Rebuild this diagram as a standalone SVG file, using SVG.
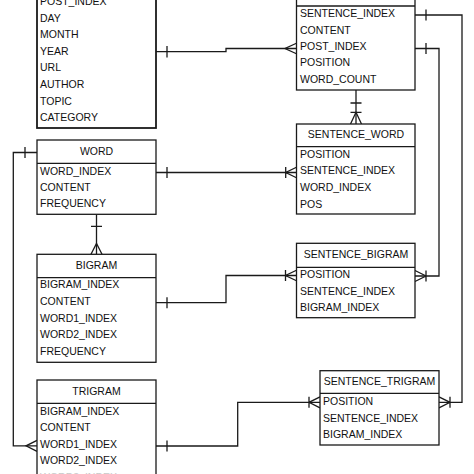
<svg xmlns="http://www.w3.org/2000/svg" width="474" height="474" viewBox="0 0 474 474">
<style>
.box{fill:#fff;stroke:#1a1a1a;stroke-width:1.3}
.sep{stroke:#1a1a1a;stroke-width:1.3}
.t{font-family:"Liberation Sans",Arial,sans-serif;font-size:10.5px;fill:#111}
.h{font-family:"Liberation Sans",Arial,sans-serif;font-size:10.5px;fill:#111;text-anchor:middle}
.c{fill:none;stroke:#1a1a1a;stroke-width:1.3}
</style>
<rect width="474" height="474" fill="#fff"/>
<g id="connectors">
<!-- POST -> SENTENCE -->
<path class="c" d="M156,51.7 H226 V48.5 H297"/>
<path class="c" d="M167,46 V57.5"/>
<path class="c" d="M297,43 L285,48.5 L297,54"/>
<!-- SENTENCE_INDEX -> SENTENCE_TRIGRAM -->
<path class="c" d="M415,15 H462 V402.3 H439"/>
<path class="c" d="M426,9.5 V20.5"/>
<path class="c" d="M439,396.8 L450,402.3 L439,407.8 M450,396.8 V407.8"/>
<!-- POST_INDEX -> SENTENCE_BIGRAM -->
<path class="c" d="M415,48.5 H439 V276 H415"/>
<path class="c" d="M426,43 V54"/>
<path class="c" d="M415,270.5 L426,276 L415,281.5 M426,270.5 V281.5"/>
<!-- SENTENCE -> SENTENCE_WORD -->
<path class="c" d="M356,90 V124"/>
<path class="c" d="M350.5,103 H361.5 M350.5,112.3 H361.5 M350.5,124 L356,112.3 L361.5,124"/>
<!-- WORD -> SENTENCE_WORD -->
<path class="c" d="M156,172.5 H297"/>
<path class="c" d="M167,167 V178"/>
<path class="c" d="M297,167 L285.7,172.5 L297,178 M285.7,167 V178"/>
<!-- WORD -> BIGRAM -->
<path class="c" d="M96.5,214.3 V254.3"/>
<path class="c" d="M91,226.3 H102 M91,254.3 L96.5,243.5 L102,254.3"/>
<!-- WORD -> TRIGRAM -->
<path class="c" d="M37,152.5 H13.3 V445.8 H37"/>
<path class="c" d="M25,147 V158"/>
<path class="c" d="M37,440.3 L26,445.8 L37,451.3"/>
<!-- BIGRAM -> SENTENCE_BIGRAM -->
<path class="c" d="M156,302.7 H226 V275.5 H297"/>
<path class="c" d="M167,297.2 V308.2"/>
<path class="c" d="M297,270 L285.5,275.5 L297,281 M285.5,270 V281"/>
<!-- TRIGRAM -> SENTENCE_TRIGRAM -->
<path class="c" d="M156,446 H237.7 V402.3 H320"/>
<path class="c" d="M167,440.5 V451.5"/>
<path class="c" d="M320,396.8 L309,402.3 L320,407.8 M309,396.8 V407.8"/>
</g>
<g id="POST">
<rect class="box" x="37" y="-40" width="119" height="168" style="stroke-width:1.8"/>
<text class="t" x="40" y="5">POST_INDEX</text>
<text class="t" x="40" y="21.6">DAY</text>
<text class="t" x="40" y="38.2">MONTH</text>
<text class="t" x="40" y="54.8">YEAR</text>
<text class="t" x="40" y="71.4">URL</text>
<text class="t" x="40" y="88">AUTHOR</text>
<text class="t" x="40" y="104.6">TOPIC</text>
<text class="t" x="40" y="121.2">CATEGORY</text>
</g>
<g id="SENTENCE">
<rect class="box" x="296.5" y="-20" width="118.5" height="110"/>
<line class="sep" x1="296.5" y1="6" x2="415" y2="6"/>
<text class="t" x="300" y="17.4">SENTENCE_INDEX</text>
<text class="t" x="300" y="33.8">CONTENT</text>
<text class="t" x="300" y="50.1">POST_INDEX</text>
<text class="t" x="300" y="66.4">POSITION</text>
<text class="t" x="300" y="82.8">WORD_COUNT</text>
</g>
<g id="SENTENCE_WORD">
<rect class="box" x="296.5" y="124" width="118.5" height="90"/>
<line class="sep" x1="296.5" y1="146.7" x2="415" y2="146.7"/>
<text class="h" x="356" y="137.8">SENTENCE_WORD</text>
<text class="t" x="300" y="157.5">POSITION</text>
<text class="t" x="300" y="174.3">SENTENCE_INDEX</text>
<text class="t" x="300" y="190.8">WORD_INDEX</text>
<text class="t" x="300" y="207.5">POS</text>
</g>
<g id="WORD">
<rect class="box" x="37" y="140" width="119" height="74.3"/>
<line class="sep" x1="37" y1="163.3" x2="156" y2="163.3"/>
<text class="h" x="96.5" y="154.5">WORD</text>
<text class="t" x="40" y="174.8">WORD_INDEX</text>
<text class="t" x="40" y="190.8">CONTENT</text>
<text class="t" x="40" y="207">FREQUENCY</text>
</g>
<g id="BIGRAM">
<rect class="box" x="37" y="254.3" width="119" height="108"/>
<line class="sep" x1="37" y1="277.7" x2="156" y2="277.7"/>
<text class="h" x="96.5" y="268.8">BIGRAM</text>
<text class="t" x="40" y="288.1">BIGRAM_INDEX</text>
<text class="t" x="40" y="304.8">CONTENT</text>
<text class="t" x="40" y="321.6">WORD1_INDEX</text>
<text class="t" x="40" y="338.4">WORD2_INDEX</text>
<text class="t" x="40" y="354.8">FREQUENCY</text>
</g>
<g id="SENTENCE_BIGRAM">
<rect class="box" x="296.5" y="243.3" width="118.5" height="74.4"/>
<line class="sep" x1="296.5" y1="267.3" x2="415" y2="267.3"/>
<text class="h" x="356" y="257.8">SENTENCE_BIGRAM</text>
<text class="t" x="300" y="277.5">POSITION</text>
<text class="t" x="300" y="294.6">SENTENCE_INDEX</text>
<text class="t" x="300" y="310.8">BIGRAM_INDEX</text>
</g>
<g id="TRIGRAM">
<rect class="box" x="37" y="380" width="119" height="120"/>
<line class="sep" x1="37" y1="403.3" x2="156" y2="403.3"/>
<text class="h" x="96.5" y="394.5">TRIGRAM</text>
<text class="t" x="40" y="414.8">BIGRAM_INDEX</text>
<text class="t" x="40" y="431.1">CONTENT</text>
<text class="t" x="40" y="447.8">WORD1_INDEX</text>
<text class="t" x="40" y="463.8">WORD2_INDEX</text>
<text class="t" x="40" y="480.5" style="fill:#c8c8c8">WORD3_INDEX</text>
</g>
<g id="SENTENCE_TRIGRAM">
<rect class="box" x="320" y="370.7" width="119" height="74.3"/>
<line class="sep" x1="320" y1="393.3" x2="439" y2="393.3"/>
<text class="h" x="379.5" y="384.8">SENTENCE_TRIGRAM</text>
<text class="t" x="323" y="404.8">POSITION</text>
<text class="t" x="323" y="421.5">SENTENCE_INDEX</text>
<text class="t" x="323" y="437.8">BIGRAM_INDEX</text>
</g>
</svg>
